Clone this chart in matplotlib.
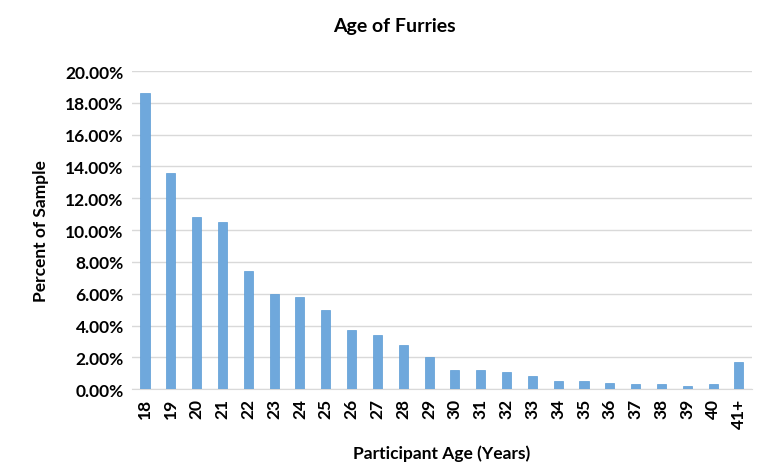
import numpy as np
import matplotlib
matplotlib.use("Agg")
import matplotlib.pyplot as plt
from matplotlib.ticker import FuncFormatter

ages = ["18", "19", "20", "21", "22", "23", "24", "25", "26", "27", "28", "29",
        "30", "31", "32", "33", "34", "35", "36", "37", "38", "39", "40", "41+"]
percent = [18.6, 13.6, 10.8, 10.5, 7.4, 6.0, 5.8, 5.0, 3.7, 3.4, 2.8, 2.0,
           1.2, 1.2, 1.1, 0.8, 0.5, 0.5, 0.4, 0.3, 0.3, 0.2, 0.3, 1.7]

plt.rcParams['font.family'] = ['Lato', 'DejaVu Sans']
plt.rcParams['font.weight'] = 'bold'

fig = plt.figure(figsize=(7.68, 4.77), dpi=100)
ax = fig.add_axes([0.172, 0.182, 0.807, 0.667])

x = np.arange(len(ages))
ax.bar(x, percent, width=0.35, color="#6fa8dc", edgecolor="#5b9bd5", linewidth=0.5, zorder=3)

ax.set_xlim(-0.5, len(ages) - 0.5)
ax.set_ylim(0, 20)
ax.set_yticks(np.arange(0, 20.1, 2))
ax.yaxis.set_major_formatter(FuncFormatter(lambda v, p: f"{v:.2f}%"))
ax.set_xticks(x)
ax.set_xticklabels(ages, rotation=90)
ax.grid(axis="y", color="#d9d9d9", linewidth=1, zorder=0)
ax.tick_params(axis="both", length=0, labelsize=12.5, pad=6)
for lab in ax.get_xticklabels() + ax.get_yticklabels():
    lab.set_fontweight("bold")
for s in ["top", "right", "left"]:
    ax.spines[s].set_visible(False)
ax.spines["bottom"].set_color("#d9d9d9")

ax.set_xlabel("Participant Age (Years)", fontsize=12.5, fontweight="bold", labelpad=12)
ax.set_ylabel("Percent of Sample", fontsize=12.5, fontweight="bold", labelpad=12)
fig.text(0.513, 0.945, "Age of Furries", ha="center", va="center", fontsize=14, fontweight="bold")

fig.savefig("out.png", dpi=100)
